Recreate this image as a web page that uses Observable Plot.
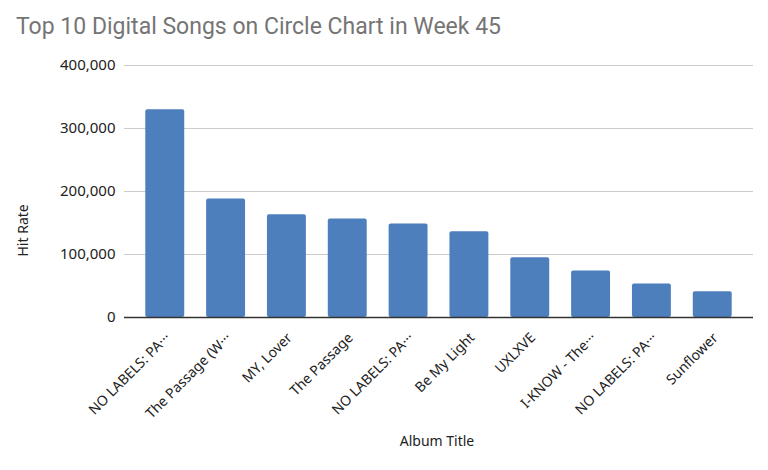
<!DOCTYPE html>
<html>
<head>
<meta charset="utf-8">
<script src="https://cdn.jsdelivr.net/npm/d3@7"></script>
<script src="https://cdn.jsdelivr.net/npm/@observablehq/plot@0.6"></script>
<style>
  html, body { margin: 0; padding: 0; background: #fff; }
  #title { height: 50px; box-sizing: border-box; padding: 13px 0 0 16px; font-family: Roboto, sans-serif; font-size: 23px; line-height: 27px; color: #757575; white-space: nowrap; }
  #chart svg { display: block; }
</style>
</head>
<body>
<div id="title">Top 10 Digital Songs on Circle Chart in Week 45</div>
<div id="chart"></div>
<script>
const albumTitles = [
  "NO LABELS: PA\u00b7\u00b7\u00b7",
  "The Passage (W\u00b7\u00b7\u00b7",
  "MY, Lover",
  "The Passage",
  "NO LABELS: PA\u00b7\u00b7\u00b7",
  "Be My Light",
  "UXLXVE",
  "I-KNOW - The\u00b7\u00b7\u00b7",
  "NO LABELS: PA\u00b7\u00b7\u00b7",
  "Sunflower"
];
const hitRates = [329600, 188100, 163200, 156400, 148400, 136200, 94900, 73700, 53100, 40800];
const yTicks = [0, 100000, 200000, 300000, 400000];

const data = albumTitles.map((t, i) => ({i, title: t, value: hitRates[i]}));
const fmt = d3.format(",");

const chart = Plot.plot({
  width: 768,
  height: 420,
  marginTop: 15,
  marginBottom: 153,
  marginLeft: 124,
  marginRight: 15,
  style: {fontFamily: "Noto Sans, sans-serif", background: "#fff"},
  x: {type: "band", domain: data.map(d => d.i), paddingInner: 0.36, paddingOuter: 0.35, round: false, axis: null},
  y: {domain: [0, 400000], axis: null},
  marks: [
    Plot.ruleY(yTicks.filter(t => t > 0), {stroke: "#cccccc", strokeWidth: 1}),
    Plot.text(yTicks, {x: null, y: d => d, text: d => fmt(d), frameAnchor: "left", textAnchor: "end", dx: -9, fontSize: 15, fill: "#222"}),
    Plot.barY(data, {x: "i", y: "value", fill: "#4e7fbd", rx: 2}),
    Plot.ruleY([0], {stroke: "#333", strokeWidth: 1.5}),
    Plot.text(data, {x: "i", text: "title", frameAnchor: "bottom", textAnchor: "end", lineAnchor: "top", rotate: -45, dx: -1, dy: 14, fontSize: 14, fill: "#222"}),
    Plot.text(["Hit Rate"], {frameAnchor: "left", dx: -101, dy: 65, rotate: -90, fontSize: 14, fill: "#222"}),
    Plot.text(["Album Title"], {frameAnchor: "bottom", dx: -2, dy: 128, fontSize: 14, fill: "#222"})
  ]
});
document.getElementById("chart").appendChild(chart);
</script>
</body>
</html>
